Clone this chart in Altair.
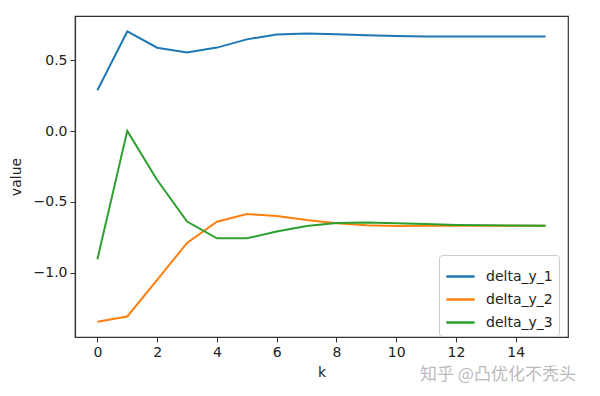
import altair as alt
import pandas as pd

k = list(range(16))
delta_y_1 = [0.289, 0.704, 0.589, 0.556, 0.590, 0.648, 0.683, 0.690, 0.684, 0.677, 0.672, 0.669, 0.668, 0.668, 0.668, 0.668]
delta_y_2 = [-1.345, -1.308, -1.050, -0.789, -0.639, -0.585, -0.599, -0.627, -0.650, -0.665, -0.670, -0.668, -0.667, -0.667, -0.667, -0.667]
delta_y_3 = [-0.904, 0.002, -0.345, -0.638, -0.756, -0.756, -0.709, -0.670, -0.648, -0.645, -0.650, -0.655, -0.662, -0.665, -0.666, -0.667]
series = ["delta_y_1", "delta_y_2", "delta_y_3"]
colors = ["#1f77b4", "#ff7f0e", "#2ca02c"]
x_ticks = [0, 2, 4, 6, 8, 10, 12, 14]
y_ticks = [-1.0, -0.5, 0.0, 0.5]
watermark = "知乎 @凸优化不秃头"

rows = []
for name, vals in zip(series, [delta_y_1, delta_y_2, delta_y_3]):
    for kk, v in zip(k, vals):
        rows.append({"k": kk, "value": v, "series": name})
df = pd.DataFrame(rows)

FONT = "DejaVu Sans"

lines = alt.Chart(df).mark_line(strokeWidth=2).encode(
    x=alt.X("k:Q", scale=alt.Scale(domain=[-0.75, 15.75], nice=False, zero=False),
            axis=alt.Axis(values=x_ticks, format="d", title="k", grid=False,
                          titlePadding=6)),
    y=alt.Y("value:Q", scale=alt.Scale(domain=[-1.453, 0.813], nice=False, zero=False),
            axis=alt.Axis(values=y_ticks, format=".1f", title="value", grid=False,
                          titlePadding=10)),
    color=alt.Color("series:N", scale=alt.Scale(domain=series, range=colors),
                    legend=alt.Legend(title=None, orient="none", legendX=364, legendY=239,
                                      symbolType="stroke", symbolSize=800, symbolStrokeWidth=2.5,
                                      labelFontSize=14, labelFont=FONT, labelColor="#222",
                                      padding=6, strokeColor="#ccc", cornerRadius=3,
                                      fillColor="white", rowPadding=-2, labelOffset=10,
                                      offset=0)),
)

wm = alt.Chart(pd.DataFrame({"t": [watermark]})).mark_text(
    font="Noto Sans CJK SC", fontSize=17, color="#bbbbbb", align="left", baseline="middle"
).encode(x=alt.value(345), y=alt.value(359), text="t:N")

chart = alt.layer(lines, wm).properties(
    width=493, height=321,
    autosize=alt.AutoSizeParams(type="none"),
    padding={"left": 75, "top": 16, "right": 32, "bottom": 59},
).configure_view(stroke="#333", strokeWidth=1.2).configure_axis(
    domainColor="#333", domainWidth=1.2, tickColor="#333", tickSize=5,
    labelFont=FONT, labelFontSize=14, labelColor="#222",
    titleFont=FONT, titleFontSize=14, titleColor="#222", titleFontWeight="normal",
    labelPadding=3,
)

chart.save("out.html", embed_options={"renderer": "svg", "actions": False})
